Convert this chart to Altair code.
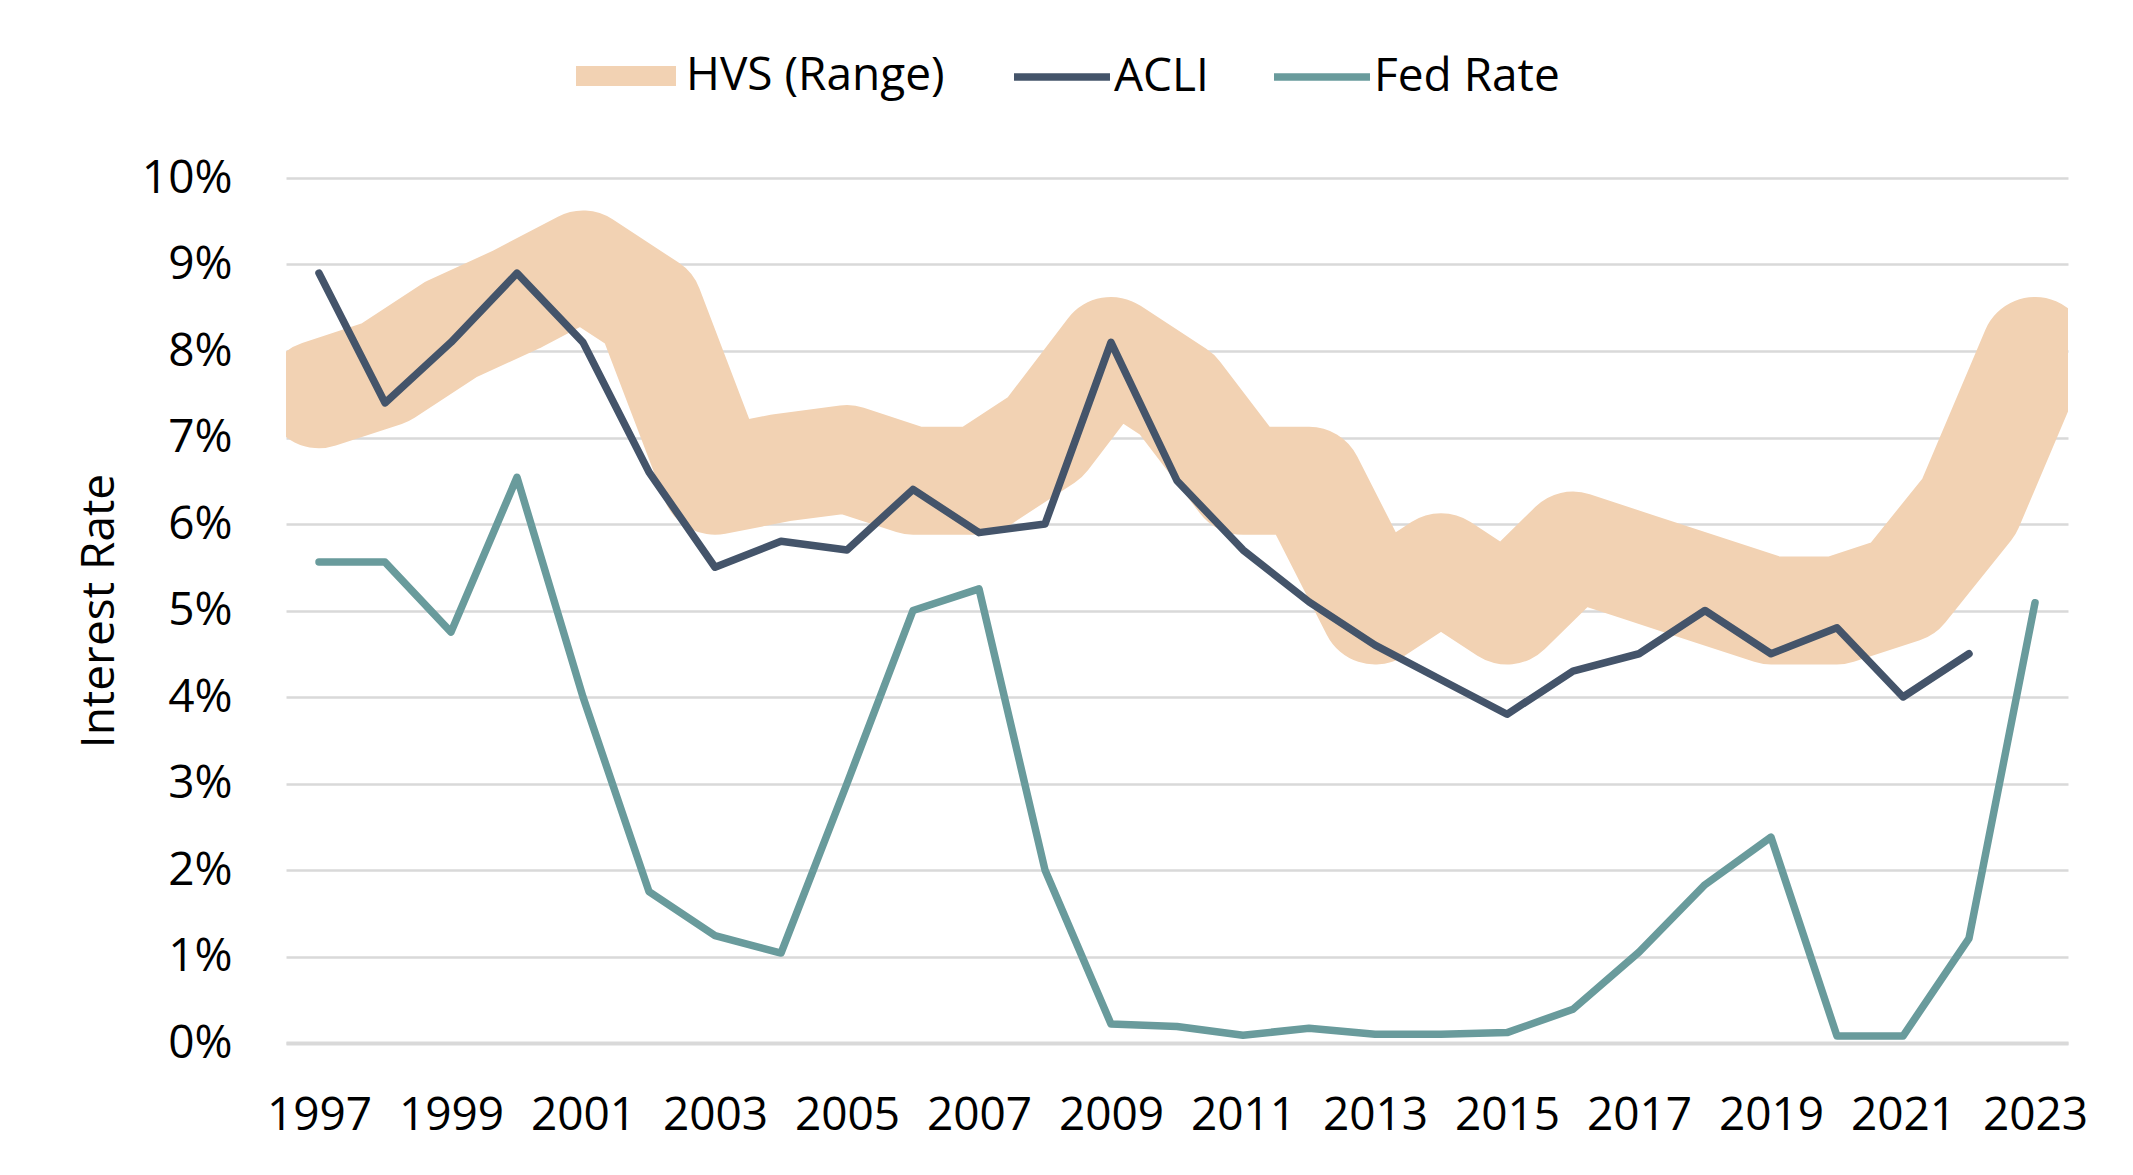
import altair as alt
import pandas as pd

# ---------------- data ----------------
years = list(range(1997, 2024))
hvs_range = [7.5, 7.75, 8.25, 8.6, 9.0, 8.5, 6.5, 6.65, 6.75, 6.5, 6.5, 7.0, 8.0, 7.5,
             6.5, 6.5, 5.0, 5.5, 5.0, 5.75, 5.5, 5.25, 5.0, 5.0, 5.25, 6.2, 8.0]
acli = [8.9, 7.4, 8.1, 8.9, 8.1, 6.6, 5.5, 5.8, 5.7, 6.4, 5.9, 6.0, 8.1, 6.5,
        5.7, 5.1, 4.6, 4.2, 3.8, 4.3, 4.5, 5.0, 4.5, 4.8, 4.0, 4.5, None]
fed_rate = [5.56, 5.56, 4.75, 6.54, 4.0, 1.75, 1.24, 1.04, 3.0, 5.0, 5.25, 2.0, 0.22, 0.19,
            0.09, 0.17, 0.10, 0.10, 0.12, 0.39, 1.05, 1.83, 2.38, 0.08, 0.08, 1.21, 5.09]
x_tick_years = list(range(1997, 2024, 2))
y_tick_values = list(range(0, 11))
hvs_name = "HVS (Range)"
hvs_color = "#F2D2B3"
line_names = ["ACLI", "Fed Rate"]
line_colors = ["#44546A", "#699B9C"]

# ---------------- tables ----------------
hvs_df = pd.DataFrame({"year": years, "rate": hvs_range, "series": hvs_name})
rows = []
for y, v in zip(years, acli):
    if v is not None:
        rows.append({"year": y, "rate": v, "series": "ACLI"})
for y, v in zip(years, fed_rate):
    if v is not None:
        rows.append({"year": y, "rate": v, "series": "Fed Rate"})
lines_df = pd.DataFrame(rows)

FONT = "Open Sans"

x_enc = alt.X(
    "year:Q",
    scale=alt.Scale(domain=[1996.5, 2023.5], nice=False, zero=False),
    axis=alt.Axis(values=x_tick_years, format="d", title=None, grid=False,
                  ticks=False, tickSize=0, domain=True, domainColor="#D9D9D9",
                  domainWidth=4, labelPadding=50, labelFontSize=46),
)
y_enc = alt.Y(
    "rate:Q",
    scale=alt.Scale(domain=[0, 10], nice=False, zero=True),
    axis=alt.Axis(values=y_tick_values, labelExpr="datum.value + '%'",
                  title="Interest Rate", grid=True, gridColor="#D9D9D9", gridWidth=2.5,
                  ticks=False, tickSize=0, domain=False, labelPadding=54,
                  labelFontSize=46, titleFontSize=46, titlePadding=18),
)

common_legend = dict(title=None, orient="none", direction="horizontal",
                     symbolType="stroke", labelLimit=0, padding=0, labelOffset=0)

hvs_legend = alt.Legend(legendX=273, legendY=-162, symbolSize=10000, symbolStrokeWidth=20,
                        symbolOffset=7, **common_legend)
lines_legend = alt.Legend(legendX=725, legendY=-153, symbolSize=9216, symbolStrokeWidth=7.5,
                          symbolOffset=-1, columnPadding=50, **common_legend)

hvs = alt.Chart(hvs_df).mark_line(
    strokeWidth=108, strokeJoin="round", strokeCap="round", clip=True
).encode(
    x=x_enc, y=y_enc,
    color=alt.Color("series:N", scale=alt.Scale(domain=[hvs_name], range=[hvs_color]),
                    legend=hvs_legend),
)

lines = alt.Chart(lines_df).mark_line(
    strokeWidth=7.5, strokeJoin="round", strokeCap="round"
).encode(
    x="year:Q",
    y="rate:Q",
    color=alt.Color("series:N", scale=alt.Scale(domain=line_names, range=line_colors),
                    legend=lines_legend),
)

chart = (
    alt.layer(hvs, lines)
    .resolve_scale(color="independent")
    .properties(
        width=1782, height=865,
        padding={"left": 278, "top": 170, "right": 40, "bottom": 110},
        autosize=alt.AutoSizeParams(type="none"),
        background="white",
    )
    .configure_view(stroke=None)
    .configure_axis(labelFont=FONT, titleFont=FONT, labelColor="#000000",
                    titleColor="#000000", titleFontWeight="normal")
    .configure_legend(labelFont=FONT, labelFontSize=46, labelColor="#000000")
)

chart.save("out.html", embed_options={"renderer": "svg", "actions": False})
